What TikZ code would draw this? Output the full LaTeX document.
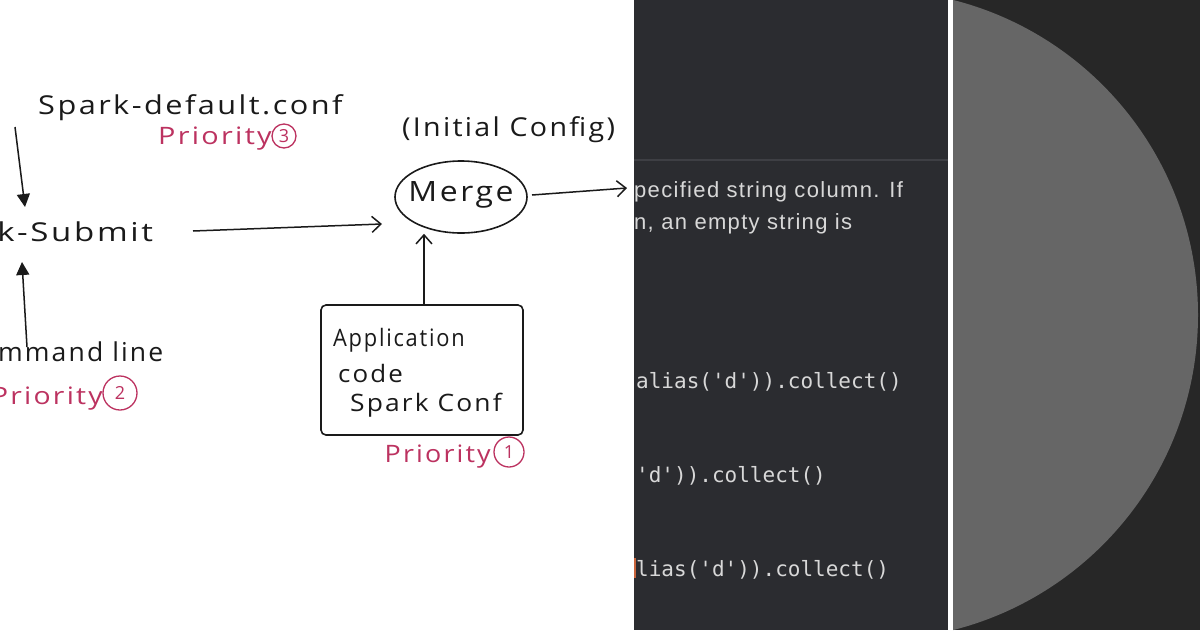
\documentclass[tikz,border=0pt]{standalone}
\usepackage{fontspec}
\usetikzlibrary{arrows.meta,shapes.geometric}
\newfontfamily\hand[LetterSpace=8]{Open Sans}
\newfontfamily\uisans[LetterSpace=6]{Liberation Sans}
\newfontfamily\codemono{DejaVu Sans Mono}
\definecolor{ink}{HTML}{1A1A1A}
\definecolor{redink}{HTML}{BC3260}
\definecolor{panel}{HTML}{2B2C30}
\definecolor{panelline}{HTML}{3E3F44}
\definecolor{uitext}{HTML}{D8D8D8}
\definecolor{rightbg}{HTML}{272727}
\definecolor{disc}{HTML}{666666}
\definecolor{codered}{HTML}{C8643C}
\begin{document}
\begin{tikzpicture}[x=1pt,y=-1pt,
  hw/.style={font=\fontsize{26}{30}\selectfont\hand, text=ink, inner sep=0pt},
  hwbox/.style={font=\fontsize{24}{28}\selectfont\hand, text=ink, inner sep=0pt},
  hwred/.style={font=\fontsize{24}{28}\selectfont\hand, text=redink, inner sep=0pt},
  numcirc/.style={draw=redink, circle, line width=1.3pt, inner sep=0pt, font=\fontsize{18}{20}\selectfont\hand, text=redink},
  inkline/.style={draw=ink, line width=1.5pt},
  openarrow/.style={inkline, -{Straight Barb[length=9pt,width=16pt,line width=1.5pt]}},
  filledarrow/.style={inkline, -{Triangle[length=13pt,width=13pt]}},
  uitxt/.style={font=\fontsize{22}{26}\selectfont\uisans, text=uitext, inner sep=0pt, anchor=base west},
  codetxt/.style={font=\fontsize{21}{25}\selectfont\codemono, text=uitext, inner sep=0pt, anchor=base west}
]
\useasboundingbox (0,0) rectangle (1200,630);
% backgrounds
\fill[white] (0,0) rectangle (634,630);
\fill[panel] (634,0) rectangle (948,630);
\fill[white] (948,0) rectangle (953,630);
\fill[rightbg] (953,0) rectangle (1200,630);
\begin{scope}
  \clip (953,0) rectangle (1200,630);
  \fill[disc] (873,315) circle (325);
\end{scope}
% dark panel content
\draw[panelline, line width=1.5pt] (634,160) -- (948,160);
\begin{scope}
  \clip (634,0) rectangle (948,630);
  \node[uitxt] (t1) at (634,197) {pecified string column. If};
  \node[uitxt] (t2) at (634,229) {n, an empty string is};
  \node[codetxt] (c1) at (636,388) {alias('d')).collect()};
  \node[codetxt] (c2) at (636,482) {'d')).collect()};
  \node[codetxt] (c3) at (636,576) {lias('d')).collect()};
  \fill[codered] (634,558) rectangle (636,578);
\end{scope}
% handwritten diagram
\begin{scope}
  \clip (0,0) rectangle (634,630);
  \node[hw, anchor=west, xscale=1.18] (spdef) at (38,108) {Spark-default.conf};
  \node[hwred, anchor=east, xscale=1.2] (p3) at (272,139) {Priority};
  \node[numcirc, minimum size=24pt] (n3) at (284,136) {3};

  \node[hw, anchor=west, xscale=1.27] (submit) at (-3,232) {k-Submit};
  \node[hw, anchor=west, xscale=1.02] (cmd) at (-2,352) {mmand line};
  \node[hwred, anchor=east, xscale=1.18] (p2) at (103,399) {Priority};
  \node[numcirc, minimum size=34pt] (n2) at (120,393) {2};

  \node[hw, anchor=west, xscale=1.1] (init) at (402,130) {(Initial Config)};
  \node[draw=ink, line width=1.6pt, ellipse, minimum width=132pt, minimum height=72pt, inner sep=0pt] (merge) at (461,197) {};
  \node[font=\fontsize{28}{32}\selectfont\hand, text=ink, inner sep=0pt, xscale=1.14] (mergetxt) at (461,195) {Merge};

  \node[draw=ink, line width=1.6pt, rounded corners=5pt, minimum width=202pt, minimum height=130pt, inner sep=0pt] (app) at (422,370) {};
  \node[hwbox, anchor=west, xscale=0.91] (a1) at (333,340) {Application};
  \node[hwbox, anchor=west, xscale=1.08] (a2) at (338,373) {code};
  \node[hwbox, anchor=west, xscale=1.1] (a3) at (350,405) {Spark Conf};
  \node[hwred, anchor=east, xscale=1.12] (p1) at (491,457) {Priority};
  \node[numcirc, minimum size=30pt] (n1) at (509,452) {1};

  \coordinate (dtop) at (15,127);
  \coordinate (dbot) at (25,207);
  \coordinate (ubot) at (27,347);
  \coordinate (utop) at (22,262);
  \coordinate (sstart) at (193,231);
  \coordinate (send) at (382,224);
  \coordinate (mout) at (532,195);
  \coordinate (oend) at (627,188);

  \draw[filledarrow] (dtop) -- (dbot);
  \draw[filledarrow] (ubot) -- (utop);
  \draw[openarrow] (sstart) -- (send);
  \draw[openarrow] (mout) -- (oend);
  \draw[openarrow] (app.north -| 424,0) -- (merge.south -| 424,0);
\end{scope}
\end{tikzpicture}
\end{document}
